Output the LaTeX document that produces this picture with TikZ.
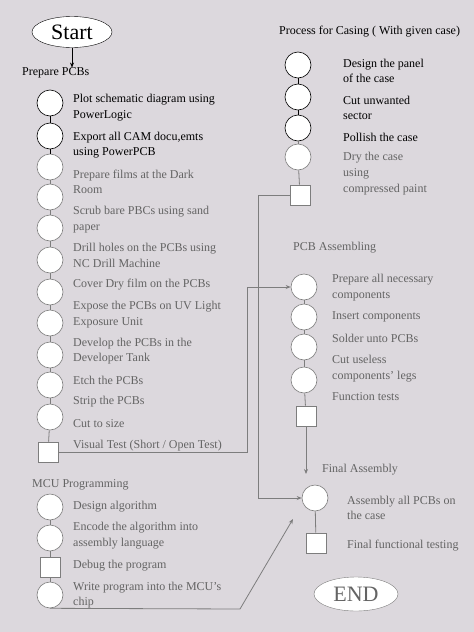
\documentclass[tikz,border=0pt]{standalone}
\usepackage{fontspec}
\setmainfont{Liberation Serif}
\usetikzlibrary{shapes.geometric,arrows.meta}
\definecolor{bg}{RGB}{220,216,221}
\definecolor{soft}{RGB}{100,100,100}
\definecolor{softline}{RGB}{125,125,125}
\begin{document}
\begin{tikzpicture}[x=1pt,y=-1pt,
  every node/.style={inner sep=0pt},
  stage/.style={circle,draw=black,fill=white,minimum size=26pt,line width=0.6pt},
  sstage/.style={stage,draw=softline},
  box/.style={rectangle,draw=black,fill=white,minimum size=20pt,line width=0.6pt},
  sbox/.style={box,draw=softline},
  lbl/.style={anchor=west,align=left,font=\fontsize{12}{15.5}\selectfont,text=black},
  slbl/.style={lbl,text=soft},
  link/.style={draw=black,line width=0.6pt},
  slink/.style={draw=softline,line width=0.8pt},
  arr/.style={-{Stealth[length=5pt,width=4pt]}},
  term/.style={ellipse,fill=white,minimum width=80pt,minimum height=31pt,font=\fontsize{22}{22}\selectfont}
]
\fill[bg] (0,0) rectangle (474,632);
\useasboundingbox (0,0) rectangle (474,632);

% ---- start
\node[term,draw=black] (start) at (72,32) {Start};
\node[lbl] (prep) at (22,73) {Prepare PCBs};
\draw[link,arr] (start) -- (start |- prep.north);

% ---- prepare PCBs column
\node[stage]  (c1)  at (50,103) {};
\node[stage]  (c2)  at (50,136) {};
\node[sstage] (c3)  at (50,167) {};
\node[sstage] (c4)  at (50,197) {};
\node[sstage] (c5)  at (50,228) {};
\node[sstage] (c6)  at (50,260) {};
\node[sstage] (c7)  at (50,292) {};
\node[sstage] (c8)  at (50,323) {};
\node[sstage] (c9)  at (50,355) {};
\node[sstage] (c10) at (50,385) {};
\node[sstage] (c11) at (50,417) {};
\node[sbox]   (c12) at (48,452) {};
\draw[link] (c1) -- (c2);
\draw[link] (c2) -- (c3);
\foreach \a/\b in {c3/c4,c4/c5,c5/c6,c6/c7,c7/c8,c8/c9,c9/c10,c10/c11,c11/c12}
  \draw[slink] (\a) -- (\b);

\node[lbl]  (t1)  at (73,107.5) {Plot schematic diagram using\\PowerLogic};
\node[lbl]  (t2)  at (73,145)   {Export all CAM docu,emts\\using PowerPCB};
\node[slbl] (t3)  at (73,182)   {Prepare films at the Dark\\Room};
\node[slbl] (t4)  at (73,219.5) {Scrub bare PBCs using sand\\paper};
\node[slbl] (t5)  at (73,255.5) {Drill holes on the PCBs using\\NC Drill Machine};
\node[slbl] (t6)  at (73,285)   {Cover Dry film on the PCBs};
\node[slbl] (t7)  at (73,314.5) {Expose the PCBs on UV Light\\Exposure Unit};
\node[slbl] (t8)  at (73,351)   {Develop the PCBs in the\\Developer Tank};
\node[slbl] (t9)  at (73,380)   {Etch the PCBs};
\node[slbl] (t10) at (73,402)   {Strip the PCBs};
\node[slbl] (t11) at (73,424)   {Cut to size};
\node[slbl] (t12) at (73,446)   {Visual Test (Short / Open Test)};

% ---- MCU programming
\node[slbl] (mt) at (32,485) {MCU Programming};
\node[sstage] (m1) at (50,507) {};
\node[sstage] (m2) at (50,538) {};
\node[sbox]   (m3) at (50,567) {};
\node[sstage] (m4) at (50,595) {};
\foreach \a/\b in {m1/m2,m2/m3,m3/m4} \draw[slink] (\a) -- (\b);
\node[slbl] (mt1) at (73,507)   {Design algorithm};
\node[slbl] (mt2) at (73,535.5) {Encode the algorithm into\\assembly language};
\node[slbl] (mt3) at (73,566)   {Debug the program};
\node[slbl] (mt4) at (73,595)   {Write program into the MCU's\\chip};

% ---- casing
\node[lbl] (kt) at (279,32) {Process for Casing ( With given case)};
\node[stage]  (k1) at (298,65)  {};
\node[stage]  (k2) at (298,97)  {};
\node[stage]  (k3) at (298,128) {};
\node[sstage] (k4) at (298,157) {};
\node[sbox]   (k5) at (300,195) {};
\draw[link] (k1) -- (k2);
\draw[link] (k2) -- (k3);
\draw[slink] (k3) -- (k4);
\draw[slink] (k4) -- (k5);
\node[lbl]  (kt1) at (343,71)  {Design the panel\\of the case};
\node[lbl]  (kt2) at (343,108) {Cut unwanted\\sector};
\node[lbl]  (kt3) at (343,137) {Pollish the case};
\node[slbl,font=\fontsize{12}{16}\selectfont] (kt4) at (343,174) {Dry the case\\using\\compressed paint};

% ---- PCB assembling
\node[slbl] (pt) at (293,248) {PCB Assembling};
\node[sstage] (p1) at (304,287) {};
\node[sstage] (p2) at (304,317) {};
\node[sstage] (p3) at (304,347) {};
\node[sstage] (p4) at (304,380) {};
\node[sbox]   (p5) at (306,416) {};
\foreach \a/\b in {p1/p2,p2/p3,p3/p4,p4/p5} \draw[slink] (\a) -- (\b);
\node[slbl] (pt1) at (332,287.5) {Prepare all necessary\\components};
\node[slbl] (pt2) at (332,317)   {Insert components};
\node[slbl] (pt3) at (332,338)   {Solder unto PCBs};
\node[slbl] (pt4) at (332,368.5) {Cut useless\\components' legs};
\node[slbl] (pt5) at (332,397)   {Function tests};

% ---- final assembly
\node[slbl] (ft) at (322,470) {Final Assembly};
\node[sstage] (f1) at (315,498) {};
\node[sbox]   (f2) at (316,543) {};
\draw[slink] (f1) -- (f2);
\node[slbl] (ft1) at (347,508) {Assembly all PCBs on\\the case};
\node[slbl] (ft2) at (347,546) {Final functional testing};

\node[term,draw=softline,text=soft,minimum width=84pt,minimum height=34pt] (end) at (356,594) {END};

% ---- cross connectors
\coordinate (j1) at (247,287);
\draw[slink,arr] (c12.east) -| (j1) -- (p1);
\coordinate (j2) at (258,498);
\draw[slink,arr] (k5.west) -| (j2) -- (f1);
\coordinate (j5) at (306,474);
\draw[slink,arr] (p5) -- (j5);
\coordinate (j3) at (240,609);
\coordinate (j4) at (293,519);
\draw[slink,arr] (m4.south) -- (j3) -- (j4);
\end{tikzpicture}
\end{document}
